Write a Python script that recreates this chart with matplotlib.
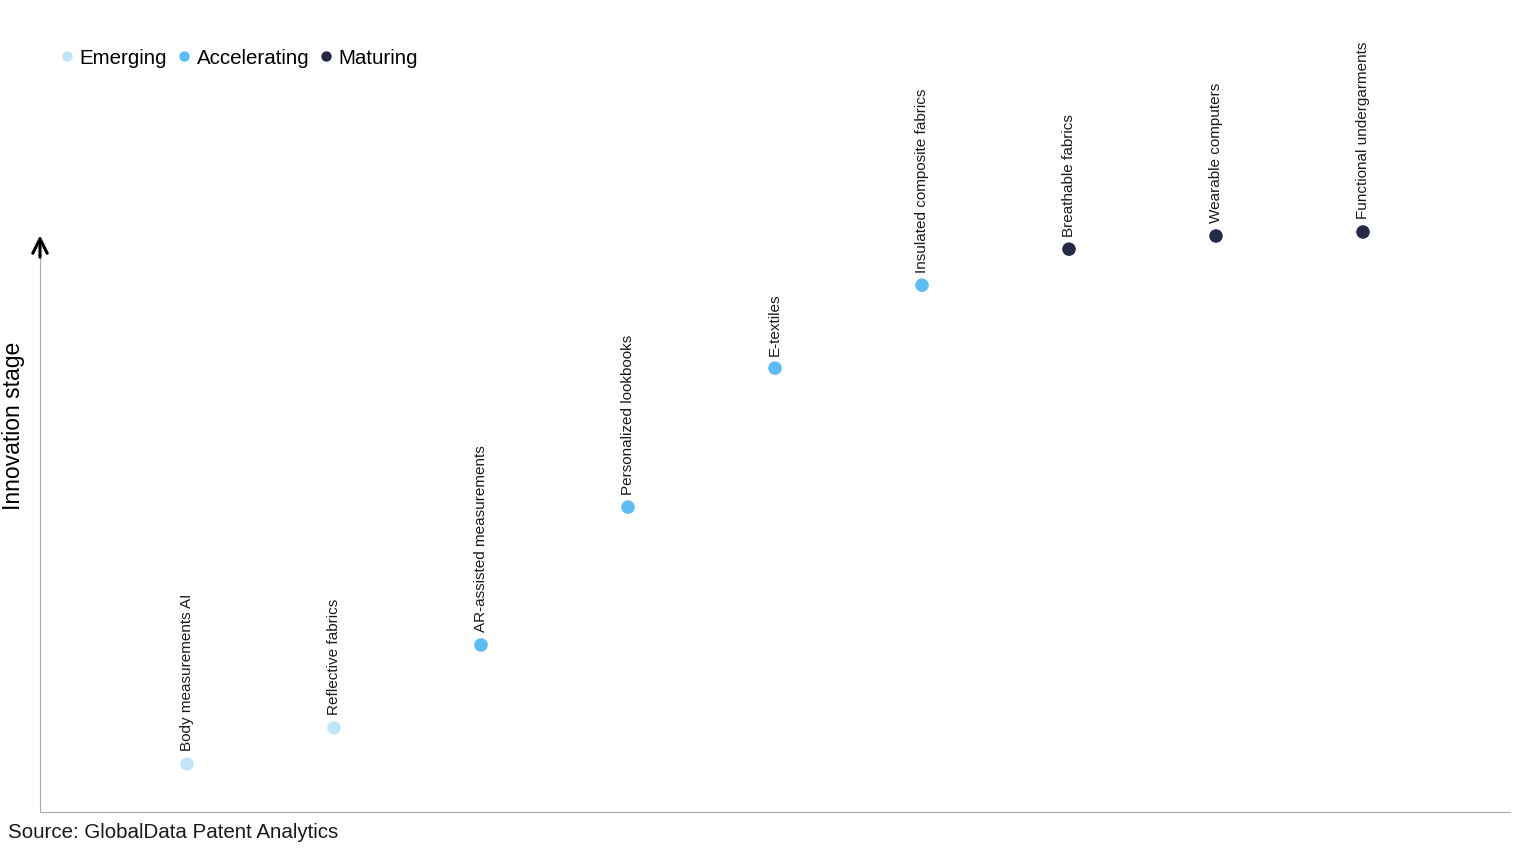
import matplotlib
matplotlib.use("Agg")
import matplotlib.pyplot as plt
from matplotlib.lines import Line2D

plt.rcParams['font.family'] = ['Liberation Sans', 'DejaVu Sans']

# data
technologies = [
    "Body measurements AI",
    "Reflective fabrics",
    "AR-assisted measurements",
    "Personalized lookbooks",
    "E-textiles",
    "Insulated composite fabrics",
    "Breathable fabrics",
    "Wearable computers",
    "Functional undergarments",
]
stage_values = [8.4, 14.7, 29.2, 53.3, 77.6, 92.1, 98.4, 100.7, 101.4]
stages = ["Emerging", "Emerging", "Accelerating", "Accelerating", "Accelerating",
          "Accelerating", "Maturing", "Maturing", "Maturing"]
stage_names = ["Emerging", "Accelerating", "Maturing"]
stage_colors = {"Emerging": "#c0e6f9", "Accelerating": "#5cbdf6", "Maturing": "#262848"}


def main():
    fig = plt.figure(figsize=(15.36, 8.64), dpi=100)
    ax = fig.add_axes([40 / 1536, 52 / 864, 1470 / 1536, 812 / 864])

    xs = list(range(1, len(technologies) + 1))
    cols = [stage_colors[s] for s in stages]
    ax.scatter(xs, stage_values, s=95, c=cols, zorder=3, linewidths=0)

    for x, y, name in zip(xs, stage_values, technologies):
        ax.annotate(name, (x, y), xytext=(0, 9), textcoords="offset points",
                    rotation=90, ha="center", va="bottom", fontsize=11, color="#1a1a1a")

    ax.set_xlim(0, 10)
    ax.set_ylim(0, 812 / 5.72)

    for side in ["top", "right"]:
        ax.spines[side].set_visible(False)
    ax.spines["left"].set_bounds(0, 100)
    ax.spines["left"].set_color("#aaaaaa")
    ax.spines["bottom"].set_color("#aaaaaa")
    ax.set_xticks([])
    ax.set_yticks([])

    # arrow head on the y axis
    ax.annotate("", xy=(0, 100.8), xytext=(0, 97.0),
                arrowprops=dict(arrowstyle="->", color="black", lw=2.2,
                                mutation_scale=26, shrinkA=0, shrinkB=0))

    fig.text(14 / 1536, 1 - 426 / 864, "Innovation stage", rotation=90,
             ha="center", va="center", fontsize=16.5, color="black")
    fig.text(8 / 1536, 1 - 832 / 864, "Source: GlobalData Patent Analytics",
             ha="left", va="center", fontsize=14.8, color="#1a1a1a")

    handles = [Line2D([], [], marker="o", linestyle="", markersize=7.5,
                      markerfacecolor=stage_colors[n], markeredgewidth=0, label=n)
               for n in stage_names]
    fig.legend(handles=handles, loc="center left", bbox_to_anchor=(57 / 1536, 1 - 58 / 864),
               ncol=3, frameon=False, fontsize=14.8, handletextpad=0.1,
               columnspacing=0.33, handlelength=1.0, borderaxespad=0, borderpad=0)

    fig.savefig("out.png", dpi=100)


if __name__ == '__main__':
    main()
